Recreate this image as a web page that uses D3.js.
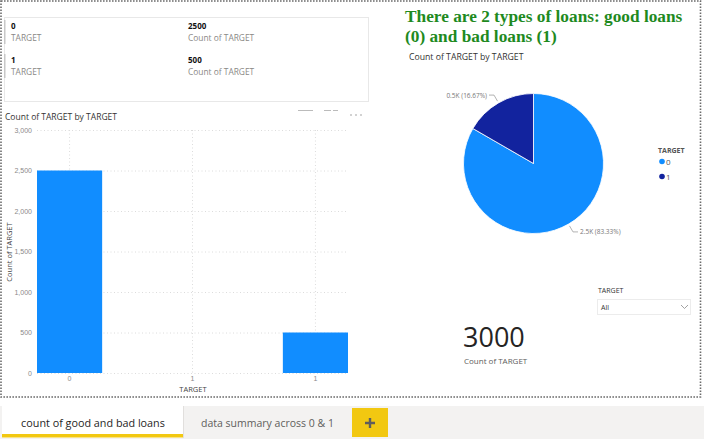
<!DOCTYPE html>
<html>
<head>
<meta charset="utf-8">
<script src="https://cdn.jsdelivr.net/npm/d3@7"></script>
<style>
  html, body { margin: 0; padding: 0; background: #fff; }
  svg { display: block; font-family: "Segoe UI", "Open Sans", "Noto Sans", sans-serif; }
</style>
</head>
<body>
<svg id="page" width="704" height="441"></svg>
<script>
// Loan target counts
const barCategories = ["0", "1", "1"];
const barValues = [2500, null, 500];
const yTicks = [0, 500, 1000, 1500, 2000, 2500, 3000];

const pieKeys = ["0", "1"];
const pieValues = [2500, 500];
const pieLabels = ["2.5K (83.33%)", "0.5K (16.67%)"];
const pieColors = ["#118dff", "#12239e"];

const tableTargets = ["0", "1"];
const tableCounts = [2500, 500];

const totalCount = 3000;
const tabNames = ["count of good and bad loans", "data summary across 0 & 1"];

const svg = d3.select("#page");

// ---- page frame (dotted canvas border) ----
svg.append("rect").attr("x", 1).attr("y", 1).attr("width", 699.5).attr("height", 396)
  .attr("fill", "none").attr("stroke", "#6b6b6b").attr("stroke-width", 1.6)
  .attr("stroke-dasharray", "1.6,1.4");

// ---- multi-row card ----
const card = svg.append("g");
card.append("rect").attr("x", 4.5).attr("y", 17.5).attr("width", 364).attr("height", 84)
  .attr("fill", "#fff").attr("stroke", "#e8e8e8");
tableTargets.forEach((t, i) => {
  const y0 = 20 + i * 34;
  card.append("rect").attr("x", 4).attr("y", y0).attr("width", 1.5).attr("height", 24).attr("fill", "#c8c8c8");
  card.append("text").attr("x", 11).attr("y", y0 + 9).attr("font-size", 8).attr("font-weight", 700).attr("fill", "#111").text(t);
  card.append("text").attr("x", 11).attr("y", y0 + 21).attr("font-size", 8.4).attr("fill", "#8a8886").text("TARGET");
  card.append("text").attr("x", 188).attr("y", y0 + 9).attr("font-size", 8).attr("font-weight", 700).attr("fill", "#111").text(tableCounts[i]);
  card.append("text").attr("x", 188).attr("y", y0 + 21).attr("font-size", 8.4).attr("fill", "#8a8886").text("Count of TARGET");
});

// ---- column chart ----
const bar = svg.append("g");
bar.append("text").attr("x", 5).attr("y", 120).attr("font-size", 8.5).attr("fill", "#333").text("Count of TARGET by TARGET");
// visual header icons
bar.append("path").attr("d", "M298,110.5H313M324,110.5H331M333,110.5H338").attr("stroke", "#bbb").attr("stroke-width", 1);
[351, 356, 361].forEach(x => bar.append("circle").attr("cx", x).attr("cy", 115).attr("r", 0.8).attr("fill", "#999"));

const x = d3.scaleBand().domain(d3.range(barCategories.length)).range([37, 348]).paddingInner(0.47).paddingOuter(0);
const y = d3.scaleLinear().domain([0, 3000]).range([373, 130]);

// horizontal gridlines
bar.append("g").selectAll("line").data(yTicks).join("line")
  .attr("x1", 37).attr("x2", 347).attr("y1", d => y(d) + 0.5).attr("y2", d => y(d) + 0.5)
  .attr("stroke", "#dcdcdc").attr("stroke-dasharray", "1,2.5");
// vertical gridlines at category centres
bar.append("g").selectAll("line").data(d3.range(barCategories.length)).join("line")
  .attr("x1", i => x(i) + x.bandwidth() / 2).attr("x2", i => x(i) + x.bandwidth() / 2)
  .attr("y1", 130).attr("y2", 373)
  .attr("stroke", "#dcdcdc").attr("stroke-dasharray", "1,2.5");

const yAxis = d3.axisLeft(y).tickValues(yTicks).tickFormat(d3.format(",")).tickSize(0).tickPadding(0);
bar.append("g").attr("transform", "translate(32,0)").call(yAxis)
  .call(g => g.select(".domain").remove())
  .call(g => g.selectAll("text").attr("font-size", 7).attr("fill", "#8a8a8a").attr("font-family", "inherit"));

bar.append("g").selectAll("rect").data(barValues.map((v, i) => ({ v, i })).filter(d => d.v != null)).join("rect")
  .attr("x", d => x(d.i)).attr("width", x.bandwidth())
  .attr("y", d => y(d.v)).attr("height", d => y(0) - y(d.v))
  .attr("fill", "#118dff");

const xAxis = d3.axisBottom(x).tickFormat(i => barCategories[i]).tickSize(0).tickPadding(0);
bar.append("g").attr("transform", "translate(0,376)").call(xAxis)
  .call(g => g.select(".domain").remove())
  .call(g => g.selectAll("text").attr("font-size", 7).attr("fill", "#8a8a8a").attr("font-family", "inherit"));

bar.append("text").attr("x", 193).attr("y", 392).attr("text-anchor", "middle").attr("font-size", 7.5).attr("fill", "#444").text("TARGET");
bar.append("text").attr("transform", "translate(12,252) rotate(-90)").attr("text-anchor", "middle")
  .attr("font-size", 7.5).attr("fill", "#444").text("Count of TARGET");

// ---- heading text ----
const head = svg.append("g").attr("font-family", "'Liberation Serif', 'Times New Roman', serif")
  .attr("font-weight", 700).attr("font-size", 17.3).attr("fill", "#1e8a1e");
head.append("text").attr("x", 405).attr("y", 22).text("There are 2 types of loans: good loans");
head.append("text").attr("x", 405).attr("y", 42).text("(0) and bad loans (1)");

// ---- pie chart ----
const pie = svg.append("g");
pie.append("text").attr("x", 409).attr("y", 60).attr("font-size", 8.7).attr("fill", "#333").text("Count of TARGET by TARGET");

const cx = 533.5, cy = 163.5, r = 70;
const arcs = d3.pie().sort(null).value(d => d)(pieValues);
const arc = d3.arc().innerRadius(0).outerRadius(r);
const pg = pie.append("g").attr("transform", `translate(${cx},${cy})`);
pg.selectAll("path").data(arcs).join("path").attr("d", arc)
  .attr("fill", (d, i) => pieColors[i]).attr("stroke", "#fff").attr("stroke-width", 0.8);

// leader lines and data labels
arcs.forEach((a, i) => {
  const mid = (a.startAngle + a.endAngle) / 2;
  const sx = Math.sin(mid), sy = -Math.cos(mid);
  const p0 = [sx * (r + 2), sy * (r + 2)];
  const p1 = [sx * (r + 9), sy * (r + 9)];
  const dir = sx >= 0 ? 1 : -1;
  const p2 = [p1[0] + dir * 5, p1[1]];
  pg.append("polyline").attr("points", [p0, p1, p2].map(p => p.join(",")).join(" "))
    .attr("fill", "none").attr("stroke", "#a0a0a0").attr("stroke-width", 0.8);
  pg.append("text").attr("x", p2[0] + dir * 2).attr("y", p2[1] + 2.5)
    .attr("text-anchor", dir > 0 ? "start" : "end")
    .attr("font-size", 6.5).attr("fill", "#777").text(pieLabels[i]);
});

// legend
const lg = pie.append("g");
lg.append("text").attr("x", 658).attr("y", 153).attr("font-size", 7).attr("font-weight", 700).attr("fill", "#555").text("TARGET");
pieKeys.forEach((k, i) => {
  lg.append("circle").attr("cx", 662).attr("cy", 161.5 + i * 15).attr("r", 2.8).attr("fill", pieColors[i]);
  lg.append("text").attr("x", 666).attr("y", 164.5 + i * 15).attr("font-size", 8).attr("fill", "#555").text(k);
});

// ---- slicer ----
const sl = svg.append("g");
sl.append("text").attr("x", 598).attr("y", 293).attr("font-size", 7).attr("fill", "#333").text("TARGET");
sl.append("rect").attr("x", 597.5).attr("y", 299.5).attr("width", 93).attr("height", 15)
  .attr("fill", "#fff").attr("stroke", "#ececec");
sl.append("text").attr("x", 601).attr("y", 310).attr("font-size", 7).attr("fill", "#333").text("All");
sl.append("path").attr("d", "M681,305 L684.5,308.5 L688,305").attr("fill", "none").attr("stroke", "#8a8a8a").attr("stroke-width", 0.8);

// ---- KPI card ----
svg.append("text").attr("x", 463).attr("y", 347).attr("font-size", 27).attr("fill", "#252423").text(totalCount);
svg.append("text").attr("x", 464).attr("y", 364).attr("font-size", 8).attr("fill", "#605e5c").text("Count of TARGET");

// ---- page tabs ----
const tabs = svg.append("g");
tabs.append("rect").attr("x", 0).attr("y", 406).attr("width", 704).attr("height", 33).attr("fill", "#f3f2f1");
tabs.append("rect").attr("x", 2).attr("y", 406).attr("width", 181).attr("height", 32).attr("fill", "#fff");
tabs.append("rect").attr("x", 2).attr("y", 434).attr("width", 181).attr("height", 3.5).attr("fill", "#f2c811");
tabs.append("line").attr("x1", 183.5).attr("x2", 183.5).attr("y1", 406).attr("y2", 438).attr("stroke", "#e1dfdd");
tabs.append("text").attr("x", 93).attr("y", 427).attr("text-anchor", "middle").attr("font-size", 10.8).attr("fill", "#252423").text(tabNames[0]);
tabs.append("text").attr("x", 267.5).attr("y", 427).attr("text-anchor", "middle").attr("font-size", 10.5).attr("fill", "#605e5c").text(tabNames[1]);
tabs.append("rect").attr("x", 352).attr("y", 408).attr("width", 36).attr("height", 29).attr("fill", "#f2c811");
tabs.append("path").attr("d", "M370,418V428M365,423H375").attr("stroke", "#605e5c").attr("stroke-width", 2.4);
</script>
</body>
</html>
